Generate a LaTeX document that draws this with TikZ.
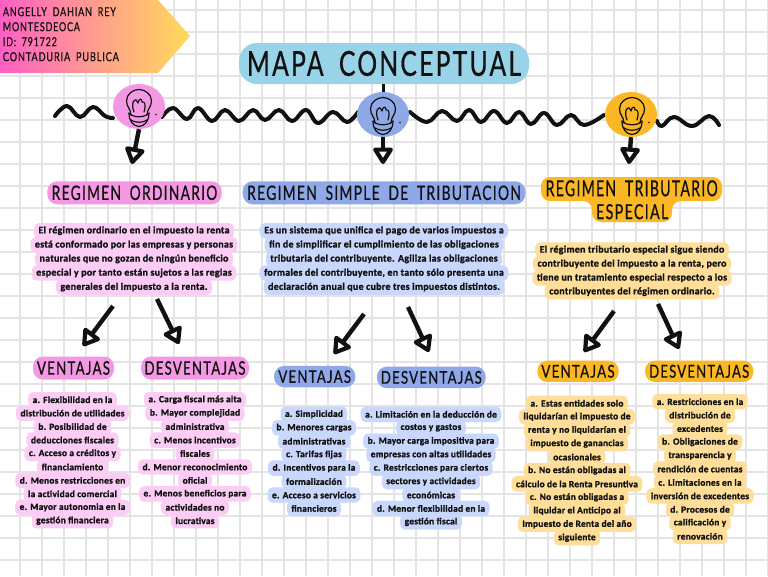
\documentclass[tikz,border=0pt]{standalone}
\usepackage{fontspec}
\usepackage{graphicx}
\setmainfont{Carlito}
\newfontfamily\hdfont{Lato}[LetterSpace=9,FakeBold=0.7,WordSpace=1.8]
\newfontfamily\bodyf{Carlito}[LetterSpace=2.5,BoldFeatures={FakeBold=1.4}]
\usetikzlibrary{arrows.meta,shapes.geometric}
\definecolor{ink}{HTML}{111111}
\definecolor{gridc}{HTML}{E4E4E4}
\definecolor{pinkH}{HTML}{F598E4}
\definecolor{pinkL}{HTML}{FBCDF5}
\definecolor{blueH}{HTML}{8FA8E8}
\definecolor{blueL}{HTML}{C8D7FB}
\definecolor{orangeH}{HTML}{FBB724}
\definecolor{orangeL}{HTML}{FEDE98}
\definecolor{titleC}{HTML}{98D3E8}
\definecolor{bannerL}{HTML}{FF5FC4}
\definecolor{bannerR}{HTML}{FFDB58}
\newcommand\listfont{\fontsize{9.4pt}{10pt}\bodyf\bfseries}
\newcommand\parafont{\fontsize{10pt}{11pt}\bodyf\bfseries}
\newcommand\stickfont{\listfont}
\tikzset{
  gridline/.style={draw=gridc,line width=1.4pt},
  wave/.style={draw=ink,line width=4pt,line cap=round,line join=round},
  handarrow/.style={draw=ink,line width=4.4pt,-{Triangle[round,fill=white,length=18.5pt,width=22pt,line width=4.2pt]}},
  blob/.style={ellipse,minimum width=52pt,minimum height=45pt,inner sep=0pt,fill=#1},
  headbox/.style={fill=#1,rounded corners=10pt,inner sep=0pt,text=ink},
  linefill/.style={fill=#1,rounded corners=5pt,inner ysep=0pt,inner xsep=4.5pt,minimum height=15.4pt},
  linetext/.style={inner ysep=0pt,inner xsep=4.5pt,text=ink},
  bulbline/.style={draw=ink,line width=1.2pt,line join=round,line cap=round},
}
% heading: name, centre x, centre y, box w, box h, text w, text h, colour, text
\newcommand\headlabel[9]{%
  \node[headbox=#8,minimum width=#4pt,minimum height=#5pt] (#1) at (#2,#3)
    {\resizebox{#6pt}{#7pt}{\hdfont #9}};}
% sticker: per-line fills first, then the lines of text
\newcommand\sticker[6]{%
  \foreach \t [count=\i] in {#6}{%
    \path ({#2},{#3+(\i-1)*#4}) node[linefill=#5,font=\stickfont] {\phantom{\t}};}%
  \foreach \t [count=\i] in {#6}{%
    \node[linetext,font=\stickfont] (#1-\i) at ({#2},{#3+(\i-1)*#4}) {\t};}}
\newcommand\bulbicon[2]{%
  \begin{scope}[shift={(#1,#2)}]
    \draw[bulbline] (-8,13) .. controls (-8,7) and (-12.5,5) .. (-12.5,-1)
      .. controls (-12.5,-8) and (-6,-12.5) .. (0,-12.5)
      .. controls (6,-12.5) and (12.5,-8) .. (12.5,-1)
      .. controls (12.5,5) and (8,7) .. (8,13);
    \draw[bulbline] (-5,10) .. controls (-7,5) and (-7,-1) .. (-4,-2)
      .. controls (-2,-3) and (-2,1) .. (-1,1)
      .. controls (0,-4) and (3,-4) .. (3,0)
      .. controls (6,-1) and (7,3) .. (5,10);
    \draw[bulbline] (-10,11) .. controls (-6,16) and (6,16) .. (10,11);
    \draw[bulbline] (-10,11) .. controls (-10,19) and (-6,24) .. (0,24.5)
      .. controls (6,24) and (10,19) .. (10,11);
    \draw[bulbline] (-8,18) .. controls (-4,21) and (4,21) .. (8,18);
    \fill[ink] (17,12.5) circle (0.9);
  \end{scope}}
\begin{document}
\begin{tikzpicture}[x=1pt,y=-1pt]
\useasboundingbox (0,0) rectangle (768,576);
\fill[white] (0,0) rectangle (768,576);
% squared paper
\foreach \gx in {20,42,...,768}{\draw[gridline] (\gx,0) -- (\gx,576);}
\foreach \gy in {10,32,...,576}{\draw[gridline] (0,\gy) -- (768,\gy);}
% banner
\shade[left color=bannerL,right color=bannerR] (0,0) -- (158,0) -- (190,36) -- (158,73) -- (0,73) -- cycle;
\node[anchor=west,inner sep=0pt,text=ink] (n1) at (2.7,11.7) {\resizebox{113pt}{9pt}{\hdfont ANGELLY DAHIAN REY}};
\node[anchor=west,inner sep=0pt,text=ink] (n2) at (2.7,26.7) {\resizebox{77pt}{9pt}{\hdfont MONTESDEOCA}};
\node[anchor=west,inner sep=0pt,text=ink] (n3) at (2.7,41.7) {\resizebox{54pt}{9pt}{\hdfont ID: 791722}};
\node[anchor=west,inner sep=0pt,text=ink] (n4) at (2.7,56.7) {\resizebox{116pt}{9pt}{\hdfont CONTADURIA PUBLICA}};
% wavy lines
\draw[wave] plot[smooth,tension=0.7] coordinates {(55,116) (67,106) (80,117) (93,107) (105,116) (113,118)};
\draw[wave] plot[smooth,tension=0.7] coordinates {(162,117) (173,108) (187,119) (198,108) (212,121) (225,110) (239,121) (253,110) (265,120) (279,110) (292,121) (306,110) (318,123) (333,112) (347,122) (358,112)};
\draw[wave] plot[smooth,tension=0.7] coordinates {(410,112) (427,122) (442,111) (457,121) (469,110) (481,122) (494,111) (507,123) (519,112) (531,124) (544,113) (557,125) (571,115) (584,125) (604,115)};
\draw[wave] plot[smooth,tension=0.7] coordinates {(657,121) (662,126) (674,117) (692,126) (709,116) (719,125)};
% title
\node[headbox=titleC,rounded corners=18pt,minimum width=290pt,minimum height=41pt] (title) at (384,63.5) {\resizebox{274pt}{25pt}{\hdfont MAPA CONCEPTUAL}};
% bulbs
\node[blob=pinkH] (b1) at (139,106.5) {};
\node[blob=blueH] (b2) at (383,114.5) {};
\node[blob=orangeH] (b3) at (631,114.5) {};
\bulbicon{139}{102}
\bulbicon{383}{110}
\bulbicon{632}{110}
\draw[draw=ink,line width=3pt] (b2.north |- title.south) -- (b2.north);
% headings
\headlabel{h1}{134.5}{192.8}{174.4}{23}{165.6}{14.4}{pinkH}{REGIMEN ORDINARIO}
\headlabel{h2}{384}{192.8}{282.6}{23}{273.7}{14.4}{blueH}{REGIMEN SIMPLE DE TRIBUTACION}
\fill[orangeH,rounded corners=9pt] (541,177) -- (722,177) -- (722,201) -- (672,201) -- (672,222) -- (592,222) -- (592,201) -- (541,201) -- cycle;
\node[inner sep=0pt,text=ink] (h3a) at (631.7,188.3) {\resizebox{172pt}{16pt}{\hdfont REGIMEN TRIBUTARIO}};
\node[inner sep=0pt,text=ink] (h3b) at (632.2,211.7) {\resizebox{72.3pt}{15pt}{\hdfont ESPECIAL}};
% paragraphs
\renewcommand\stickfont{\parafont}
\sticker{p1}{134}{230.7}{14.1}{pinkL}{El régimen ordinario en el impuesto la renta,está conformado por las empresas y personas,naturales que no gozan de ningún beneficio,especial y por tanto están sujetos a las reglas,generales del impuesto a la renta.}
\sticker{p2}{384}{230.7}{14.1}{blueL}{Es un sistema que unifica el pago de varios impuestos a,fin de simplificar el cumplimiento de las obligaciones,tributaria del contribuyente. Agiliza las obligaciones,{formales del contribuyente, en tanto sólo presenta una},declaración anual que cubre tres impuestos distintos.}
\sticker{p3}{632}{250}{13.9}{orangeL}{El régimen tributario especial sigue siendo,{contribuyente del impuesto a la renta, pero},tiene un tratamiento especial respecto a los,contribuyentes del régimen ordinario.}
% sub headings
\headlabel{v1}{73.5}{368}{81}{23}{73}{13.5}{pinkH}{VENTAJAS}
\headlabel{d1}{195}{368}{108}{23}{101}{13.5}{pinkH}{DESVENTAJAS}
\headlabel{v2}{314.7}{376.6}{81.3}{21.3}{72.7}{12.6}{blueH}{VENTAJAS}
\headlabel{d2}{431.3}{377.4}{108.7}{21.6}{101}{12.7}{blueH}{DESVENTAJAS}
\headlabel{v3}{578}{371.3}{81.4}{21.3}{73.3}{12.7}{orangeH}{VENTAJAS}
\headlabel{d3}{699.2}{371.3}{108.3}{21.3}{100}{12.9}{orangeH}{DESVENTAJAS}
% lists
\renewcommand\stickfont{\listfont}
\sticker{l1}{72.5}{399.7}{13.45}{pinkL}{a. Flexibilidad en la,distribución de utilidades,b. Posibilidad de,deducciones fiscales,c. Acceso a créditos y,financiamiento,d. Menos restricciones en,la actividad comercial,e. Mayor autonomia en la,gestión financiera}
\sticker{r1}{195}{399.7}{13.45}{pinkL}{a. Carga fiscal más alta,b. Mayor complejidad,administrativa,c. Menos incentivos,fiscales,d. Menor reconocimiento,oficial,e. Menos beneficios para,actividades no,lucrativas}
\sticker{l2}{314}{414.3}{13.45}{blueL}{a. Simplicidad,b. Menores cargas,administrativas,c. Tarifas fijas,d. Incentivos para la,formalización,e. Acceso a servicios,financieros}
\sticker{r2}{431}{414.3}{13.45}{blueL}{a. Limitación en la deducción de,costos y gastos,b. Mayor carga impositiva para,empresas con altas utilidades,c. Restricciones para ciertos,sectores y actividades,económicas,d. Menor flexibilidad en la,gestión fiscal}
\sticker{l3}{577}{403.3}{13.44}{orangeL}{a. Estas entidades solo,liquidarían el impuesto de,renta y no liquidarían el,impuesto de ganancias,ocasionales,b. No están obligadas al,cálculo de la Renta Presuntiva,c. No están obligadas a,liquidar el Anticipo al,Impuesto de Renta del año,siguiente}
\sticker{r3}{700}{401.7}{13.46}{orangeL}{a. Restricciones en la,distribución de,excedentes,b. Obligaciones de,transparencia y,rendición de cuentas,c. Limitaciones en la,inversión de excedentes,d. Procesos de,calificación y,renovación}
% arrows
\coordinate (t1) at (132,164);
\coordinate (t2) at (383,164);
\coordinate (t3) at (629,164);
\draw[handarrow] (b1.south) -- (t1);
\draw[handarrow] (b2.south) -- (t2);
\draw[handarrow] (b3.south) -- (t3);
\coordinate (a1s) at (113,306); \coordinate (a1e) at (83,346);
\coordinate (a2s) at (157,299); \coordinate (a2e) at (179,344);
\coordinate (a3s) at (364,314); \coordinate (a3e) at (334,354);
\coordinate (a4s) at (408,307); \coordinate (a4e) at (429,352);
\coordinate (a5s) at (614,311); \coordinate (a5e) at (584,352);
\coordinate (a6s) at (658,304); \coordinate (a6e) at (679,349);
\draw[handarrow] (a1s) -- (a1e);
\draw[handarrow] (a2s) -- (a2e);
\draw[handarrow] (a3s) -- (a3e);
\draw[handarrow] (a4s) -- (a4e);
\draw[handarrow] (a5s) -- (a5e);
\draw[handarrow] (a6s) -- (a6e);
\end{tikzpicture}
\end{document}
